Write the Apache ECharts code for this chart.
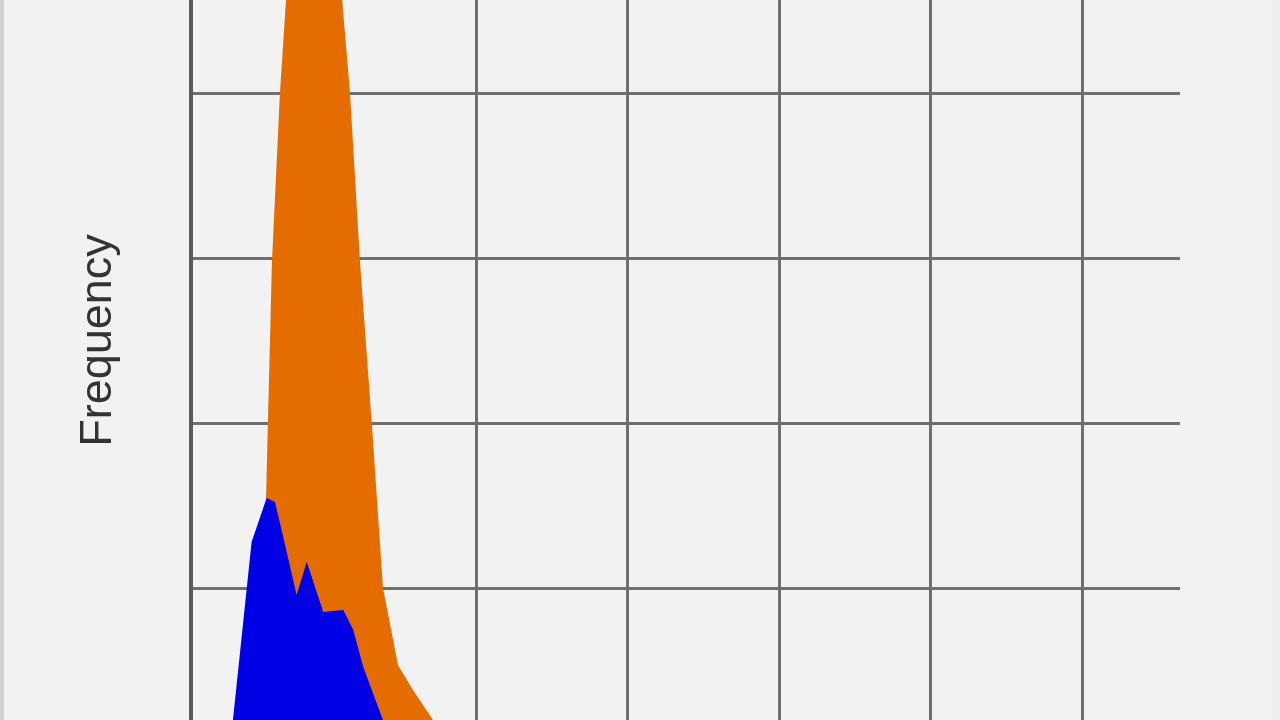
<!DOCTYPE html>
<html>
<head>
<meta charset="utf-8">
<script src="https://cdn.jsdelivr.net/npm/echarts@6/dist/echarts.min.js"></script>
<style>
  html, body { margin: 0; padding: 0; background: #f2f2f2; overflow: hidden; }
  #wrap { position: relative; width: 1280px; height: 720px; overflow: hidden; background: #f2f2f2; }
  #edgeL { position: absolute; left: 0; top: 0; width: 4px; height: 720px; background: #d2d2d2; z-index: 2; }
  #edgeR { position: absolute; right: 0; top: 0; width: 8px; height: 720px; background: #eeeeee; z-index: 2; }
  #chart { position: absolute; left: 0; top: -72px; width: 1280px; height: 825px; }
</style>
</head>
<body>
<div id="wrap">
  <div id="chart"></div>
  <div id="edgeL"></div>
  <div id="edgeR"></div>
</div>
<script>
// Orange distribution (x value, frequency)
const orangeX = [3.43, 5.87, 6.14, 6.27, 6.53, 7.06, 7.59, 9.37, 10.83, 11.68, 12.34, 13.14, 13.86, 14.85, 15.84, 17.16, 18.61];
const orangeY = [0, 92.7, 153.3, 201.8, 297, 400, 474.5, 608, 492.7, 400.6, 298.2, 197.6, 100, 53.3, 38.2, 20, 0];

// Blue distribution (x value, frequency)
const blueX = [3.73, 5.19, 6.18, 6.73, 7.28, 8.16, 8.83, 9.92, 11.24, 11.90, 12.56, 13.86, 14.52];
const blueY = [0, 127.9, 154.5, 152.1, 130.9, 95.8, 115.8, 85.5, 86.7, 74.5, 52.1, 20, 0];

const yAxisName = 'Frequency';

const pairs = (xs, ys) => xs.map((x, i) => [x, ys[i]]);

const chart = echarts.init(document.getElementById('chart'), null, { renderer: 'canvas' });
chart.setOption({
  backgroundColor: 'transparent',
  animation: false,
  grid: { left: 191, right: 100, top: 0, bottom: 0, containLabel: false },
  xAxis: {
    type: 'value',
    min: 1.19,
    max: 66.47,
    axisLine: { show: false },
    axisTick: { show: false },
    axisLabel: { show: false },
    splitLine: { show: true, showMinLine: false, showMaxLine: false, lineStyle: { color: '#6f6f6f', width: 3 } }
  },
  yAxis: {
    type: 'value',
    min: 0,
    max: 500,
    interval: 100,
    name: yAxisName,
    nameLocation: 'middle',
    nameGap: 70,
    nameTextStyle: { fontSize: 45, color: '#333333', fontFamily: 'Liberation Sans, Arial, sans-serif' },
    axisLine: { show: true, lineStyle: { color: '#5a5a5a', width: 4 } },
    axisTick: { show: false },
    axisLabel: { show: false },
    splitLine: { show: true, lineStyle: { color: '#6f6f6f', width: 3 } }
  },
  series: [
    {
      type: 'line',
      data: pairs(orangeX, orangeY),
      symbol: 'none',
      lineStyle: { width: 0 },
      areaStyle: { color: '#e46c00', opacity: 1 },
      z: 3
    },
    {
      type: 'line',
      data: pairs(blueX, blueY),
      symbol: 'none',
      lineStyle: { width: 0 },
      areaStyle: { color: '#0000e4', opacity: 1 },
      z: 4
    }
  ]
});
</script>
</body>
</html>
